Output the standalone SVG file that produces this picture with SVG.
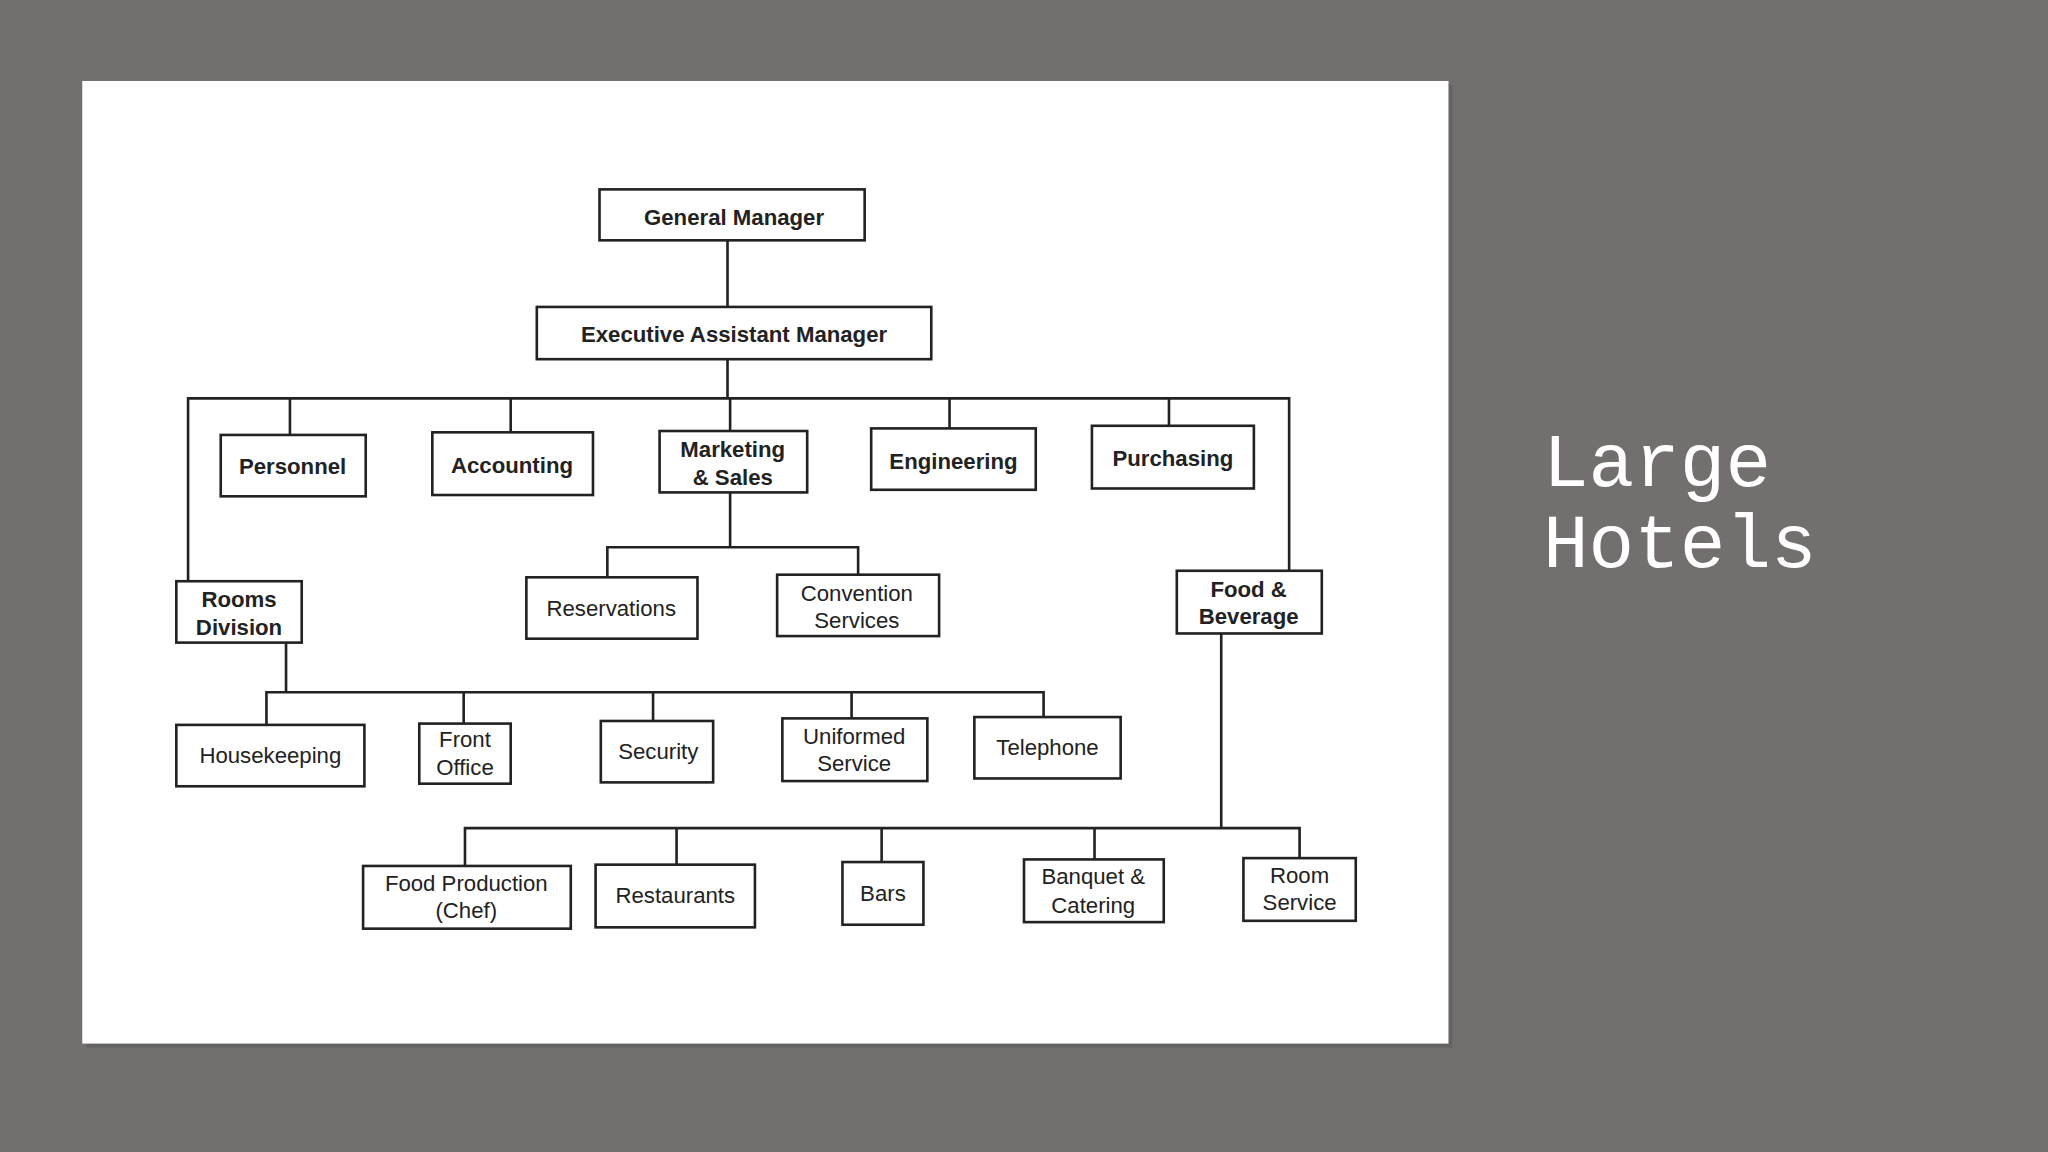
<svg xmlns="http://www.w3.org/2000/svg" width="2048" height="1152" viewBox="0 0 2048 1152">
<style>
.b{fill:#fff;stroke:#222;stroke-width:2}
.t{font-family:"Liberation Sans",Arial,sans-serif;font-size:17px;fill:#222;text-anchor:middle}
.tb{font-weight:bold}
.c{stroke:#222;stroke-width:2;fill:none}
.h{font-family:"Liberation Mono","Courier New",monospace;font-size:76px;fill:#fff}
</style>
<rect width="2048" height="1152" fill="#746f6f"/>
<g transform="scale(1.30612)">
<rect x="66" y="65" width="1046" height="737" fill="#555" opacity="0.5"/>
<rect x="63" y="62" width="1046" height="737" fill="#fff"/>
<g id="connectors">
<path class="c" d="M557 184V305M144 445V305H987V437M222 305V333M391 305V331M559 305V330M727 305V328M895 305V326"/>
<path class="c" d="M559 377V419M465 442V419H657V440"/>
<path class="c" d="M219 492V530M204 555V530H799V549M355 530V554M500 530V552M652 530V550"/>
<path class="c" d="M935 485V634M356 663V634H995V657M518 634V662M675 634V660M838 634V658"/>
</g>
<g id="gm"><rect class="b" x="459" y="145" width="203" height="39"/><text class="t tb" x="562" y="172">General Manager</text></g>
<g id="eam"><rect class="b" x="411" y="235" width="302" height="40"/><text class="t tb" x="562" y="262">Executive Assistant Manager</text></g>
<g id="personnel"><rect class="b" x="169" y="333" width="111" height="47"/><text class="t tb" x="224" y="363">Personnel</text></g>
<g id="accounting"><rect class="b" x="331" y="331" width="123" height="48"/><text class="t tb" x="392" y="362">Accounting</text></g>
<g id="marketing"><rect class="b" x="505" y="330" width="113" height="47"/><text class="t tb" x="561" y="350">Marketing</text><text class="t tb" x="561" y="371">&amp; Sales</text></g>
<g id="engineering"><rect class="b" x="667" y="328" width="126" height="47"/><text class="t tb" x="730" y="359">Engineering</text></g>
<g id="purchasing"><rect class="b" x="836" y="326" width="124" height="48"/><text class="t tb" x="898" y="357">Purchasing</text></g>
<g id="rooms"><rect class="b" x="135" y="445" width="96" height="47"/><text class="t tb" x="183" y="465">Rooms</text><text class="t tb" x="183" y="486">Division</text></g>
<g id="fb"><rect class="b" x="901" y="437" width="111" height="48"/><text class="t tb" x="956" y="457">Food &amp;</text><text class="t tb" x="956" y="478">Beverage</text></g>
<g id="reservations"><rect class="b" x="403" y="442" width="131" height="47"/><text class="t" x="468" y="472">Reservations</text></g>
<g id="convention"><rect class="b" x="595" y="440" width="124" height="47"/><text class="t" x="656" y="460">Convention</text><text class="t" x="656" y="481">Services</text></g>
<g id="housekeeping"><rect class="b" x="135" y="555" width="144" height="47"/><text class="t" x="207" y="584">Housekeeping</text></g>
<g id="frontoffice"><rect class="b" x="321" y="554" width="70" height="46"/><text class="t" x="356" y="572">Front</text><text class="t" x="356" y="593">Office</text></g>
<g id="security"><rect class="b" x="460" y="552" width="86" height="47"/><text class="t" x="504" y="581">Security</text></g>
<g id="uniformed"><rect class="b" x="599" y="550" width="111" height="48"/><text class="t" x="654" y="570">Uniformed</text><text class="t" x="654" y="590">Service</text></g>
<g id="telephone"><rect class="b" x="746" y="549" width="112" height="47"/><text class="t" x="802" y="578">Telephone</text></g>
<g id="foodprod"><rect class="b" x="278" y="663" width="159" height="48"/><text class="t" x="357" y="682">Food Production</text><text class="t" x="357" y="703">(Chef)</text></g>
<g id="restaurants"><rect class="b" x="456" y="662" width="122" height="48"/><text class="t" x="517" y="691">Restaurants</text></g>
<g id="bars"><rect class="b" x="645" y="660" width="62" height="48"/><text class="t" x="676" y="690">Bars</text></g>
<g id="banquet"><rect class="b" x="784" y="658" width="107" height="48"/><text class="t" x="837" y="677">Banquet &amp;</text><text class="t" x="837" y="699">Catering</text></g>
<g id="roomservice"><rect class="b" x="952" y="657" width="86" height="48"/><text class="t" x="995" y="676">Room</text><text class="t" x="995" y="697">Service</text></g>
</g>
<text class="h" x="1543" y="486">Large</text>
<text class="h" x="1543" y="567">Hotels</text>
</svg>
